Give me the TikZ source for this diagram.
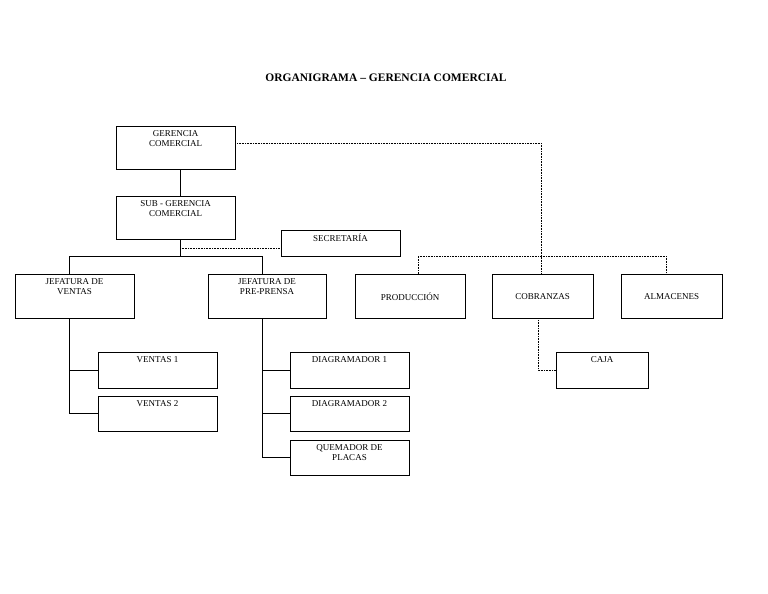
\documentclass[tikz,border=0pt]{standalone}
\usepackage{fontspec}
\setmainfont{Liberation Serif}
\begin{document}
\begin{tikzpicture}[x=1pt,y=-1pt,
  box/.style={draw,line width=0.6pt,inner sep=0pt},
  txt/.style={font=\fontsize{9}{10}\selectfont,align=center,inner sep=0pt,anchor=north},
  ln/.style={line width=0.6pt},
  dl/.style={line width=0.6pt,densely dotted}]
\useasboundingbox (0,0) rectangle (768,594);
\newcommand{\bx}[6]{\node[box,minimum width=#4-#2,minimum height=#5-#3] (#1) at ({(#2+#4)/2},{(#3+#5)/2}) {};}
\node[font=\bfseries\fontsize{11.5}{13}\selectfont] (title) at (386,78) {ORGANIGRAMA -- GERENCIA COMERCIAL};
\bx{g}{116}{126}{235}{169}{}
\node[txt] at (175.5,130) {GERENCIA\\COMERCIAL};
\bx{sg}{116}{196}{235}{239}{}
\node[txt] at (175.5,200) {SUB - GERENCIA\\COMERCIAL};
\bx{sec}{281}{230}{400}{256}{}
\node[txt] at (340.5,234) {SECRETARÍA};
\bx{jv}{15}{274}{134}{318}{}
\node[txt] at (74.5,278) {JEFATURA DE\\VENTAS};
\bx{jp}{208}{274}{326}{318}{}
\node[txt] at (267,278) {JEFATURA DE\\PRE-PRENSA};
\bx{pr}{355}{274}{465}{318}{}
\node[txt,anchor=center] at (410,297) {PRODUCCIÓN};
\bx{co}{492}{274}{593}{318}{}
\node[txt,anchor=center] at (542.5,297) {COBRANZAS};
\bx{al}{621}{274}{722}{318}{}
\node[txt,anchor=center] at (671.5,297) {ALMACENES};
\bx{v1}{98}{352}{217}{388}{}
\node[txt] at (157.5,356) {VENTAS 1};
\bx{v2}{98}{396}{217}{431}{}
\node[txt] at (157.5,400) {VENTAS 2};
\bx{d1}{290}{352}{409}{388}{}
\node[txt] at (349.5,356) {DIAGRAMADOR 1};
\bx{d2}{290}{396}{409}{431}{}
\node[txt] at (349.5,400) {DIAGRAMADOR 2};
\bx{q}{290}{440}{409}{475}{}
\node[txt] at (349.5,444) {QUEMADOR DE\\PLACAS};
\bx{cj}{556}{352}{648}{388}{}
\node[txt] at (602,356) {CAJA};
% connectors
\draw[ln] (g.south -| 180,0) -- (sg.north -| 180,0);
\draw[ln] (180,239) -- (180,256);
\draw[ln] (jv.north -| 69,0) -- (69,256) -- (262,256) -- (jp.north -| 262,0);
\draw[dl] (180,248) -- (sec.west |- 0,248);
\draw[dl] (g.east |- 0,143) -- (541,143) -- (co.north -| 541,0);
\draw[dl] (pr.north -| 418,0) -- (418,256) -- (666,256) -- (al.north -| 666,0);
\draw[ln] (jv.south -| 69,0) -- (69,413) -- (v2.west |- 0,413);
\draw[ln] (69,370) -- (v1.west |- 0,370);
\draw[ln] (jp.south -| 262,0) -- (262,457) -- (q.west |- 0,457);
\draw[ln] (262,370) -- (d1.west |- 0,370);
\draw[ln] (262,413) -- (d2.west |- 0,413);
\draw[dl] (co.south -| 538,0) -- (538,370) -- (cj.west |- 0,370);
\end{tikzpicture}
\end{document}
